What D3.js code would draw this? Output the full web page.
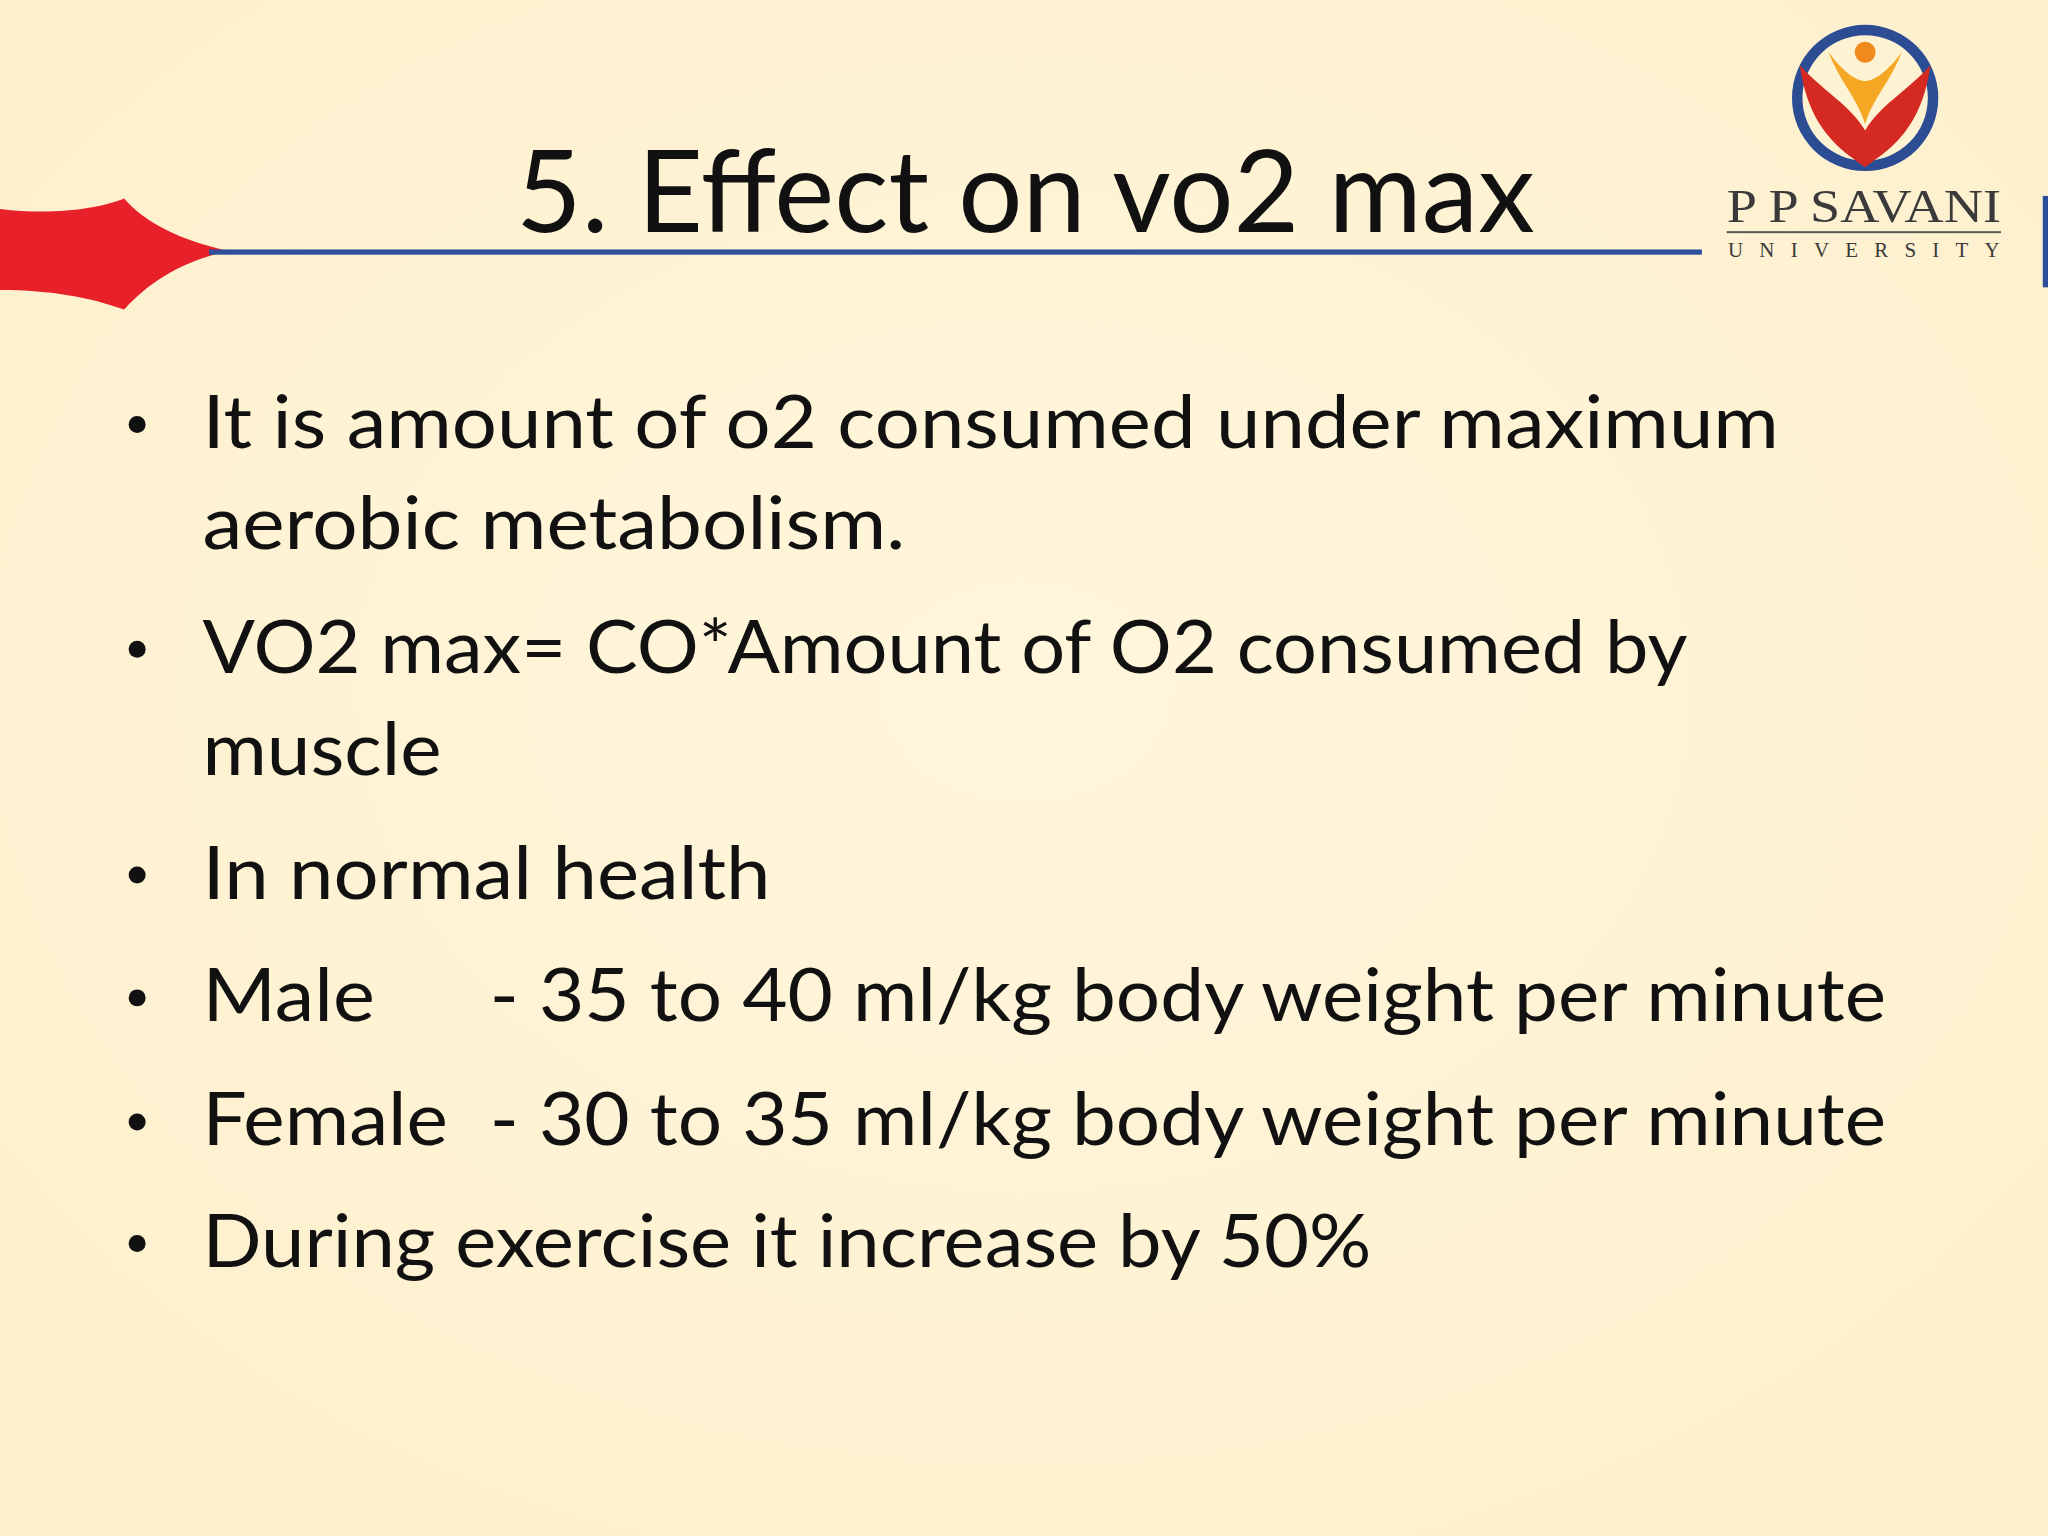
<!DOCTYPE html>
<html><head><meta charset="utf-8">
<script src="https://cdn.jsdelivr.net/npm/d3@7"></script>
<style>html,body{margin:0;padding:0;background:#fdf2d2;}</style>
</head><body>
<script>
const title = "5. Effect on vo2 max";
const bulletTexts = [
  ["It is amount of o2 consumed under maximum", "aerobic metabolism."],
  ["VO2 max= CO*Amount of O2 consumed by", "muscle"],
  ["In normal health"],
  ["Male", "- 35 to 40 ml/kg body weight per minute"],
  ["Female", "- 30 to 35 ml/kg body weight per minute"],
  ["During exercise it increase by 50%"]
];
const baselines = [[343,420],[515,593],[688],[782],[877],[970]];
const widths = [[1207,538],[1137,183],[435],[132,1069],[188,1069],[895]];

const svg = d3.select("body").append("svg")
  .attr("width",2048).attr("height",1536).attr("viewBox","0 0 1568 1176");
const grad = svg.append("defs").append("radialGradient").attr("id","bg").attr("cx","0.5").attr("cy","0.45").attr("r","0.75");
grad.append("stop").attr("offset","0").attr("stop-color","#fff6dc");
grad.append("stop").attr("offset","1").attr("stop-color","#fdefcb");
svg.append("rect").attr("width",1568).attr("height",1176).attr("fill","url(#bg)");

// red swoosh and blue line
svg.append("path").attr("d","M0,160 C40,165 75,160 95,152 C110,170 140,185 175,192 C140,200 115,215 95,237 C70,228 40,222 0,222 Z").attr("fill","#e8202a");
svg.append("rect").attr("x",160).attr("y",191).attr("width",1143).attr("height",4).attr("fill","#2d4f9a");

// title
svg.append("text").attr("x",395).attr("y",178).attr("font-family","Lato, 'Open Sans', sans-serif")
  .attr("font-size",88).attr("fill","#111").attr("textLength",780).attr("lengthAdjust","spacingAndGlyphs").text(title);

// logo
const lg = svg.append("g");
lg.append("circle").attr("cx",1428).attr("cy",75).attr("r",56).attr("fill","#2c4c94");
lg.append("circle").attr("cx",1428).attr("cy",75).attr("r",48).attr("fill","#fdf2d2");
lg.append("path").attr("d","M1378,50 C1385,100 1410,115 1428,128 C1446,115 1471,100 1478,50 C1460,70 1440,80 1428,100 C1416,80 1396,70 1378,50 Z").attr("fill","#d42a22");
lg.append("path").attr("d","M1400,40 C1410,65 1422,75 1428,95 C1434,75 1446,65 1456,40 C1445,55 1435,62 1428,62 C1421,62 1411,55 1400,40 Z").attr("fill","#f5a623");
lg.append("circle").attr("cx",1428).attr("cy",40).attr("r",8).attr("fill","#f08a1c");
lg.append("text").attr("x",1322).attr("y",170).attr("font-family","'Liberation Serif', serif").attr("font-size",36)
  .attr("fill","#3a3a3a").attr("textLength",210).attr("lengthAdjust","spacingAndGlyphs").text("P P SAVANI");
lg.append("rect").attr("x",1322).attr("y",177).attr("width",210).attr("height",1.5).attr("fill","#555");
lg.append("text").attr("x",1323).attr("y",197).attr("font-family","'Liberation Serif', serif").attr("font-size",16)
  .attr("fill","#3a3a3a").attr("textLength",208).attr("lengthAdjust","spacing").text("UNIVERSITY");

// bullets
const g = svg.append("g").attr("font-family","Lato, 'Open Sans', sans-serif").attr("font-size",57).attr("fill","#111");
bulletTexts.forEach((b,i)=>{
  g.append("circle").attr("cx",105).attr("cy",baselines[i][0]-18).attr("r",6.5).attr("fill","#111");
  if (b.length===2 && baselines[i].length===1){
    g.append("text").attr("x",155).attr("y",baselines[i][0]).attr("textLength",widths[i][0]).attr("lengthAdjust","spacingAndGlyphs").text(b[0]);
    g.append("text").attr("x",375).attr("y",baselines[i][0]).attr("textLength",widths[i][1]).attr("lengthAdjust","spacingAndGlyphs").text(b[1]);
  } else {
    b.forEach((t,j)=>{
      g.append("text").attr("x",155).attr("y",baselines[i][j]).attr("textLength",widths[i][j]).attr("lengthAdjust","spacingAndGlyphs").text(t);
    });
  }
});
svg.append("rect").attr("x",1564).attr("y",150).attr("width",4).attr("height",70).attr("fill","#2d4f9a");
</script>
</body></html>
